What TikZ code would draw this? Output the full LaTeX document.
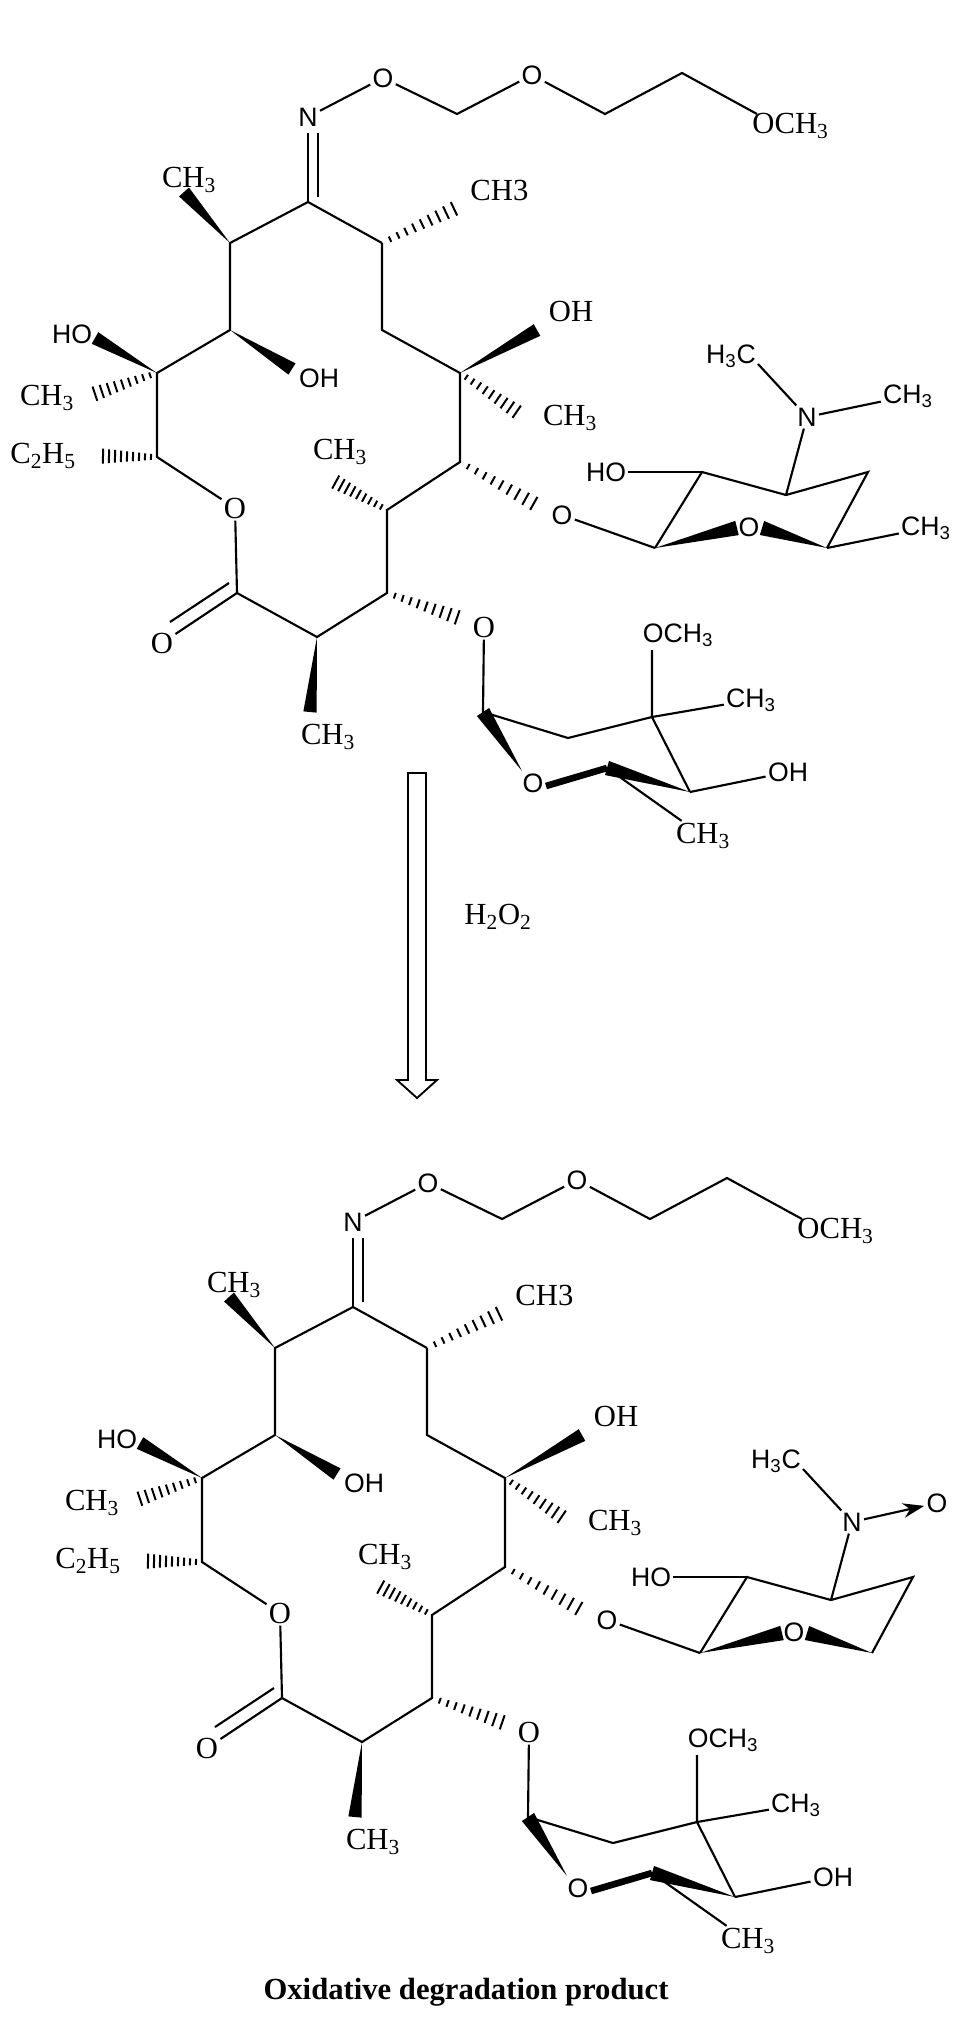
\documentclass[tikz,border=0pt]{standalone}
\usepackage{fontspec}
\setmainfont{Liberation Serif}
\setsansfont{Liberation Sans}
\usetikzlibrary{calc,arrows.meta}
\newcommand\wdg[3]{\fill ($(#1)$) -- ($(#2)!#3!90:(#1)$) -- ($(#2)!#3!-90:(#1)$) -- cycle;}
\newcommand\hsh[3]{\foreach \t in {0.1,0.2,...,0.95}{\draw[line width=1.5pt] ($(#1)!\t!(#2)!{(0.3+0.7*\t)*#3}!90:(#2)$) -- ($(#1)!\t!(#2)!{(0.3+0.7*\t)*#3}!-90:(#2)$);}}
\newcommand\mymol{%
% oxime side chain
\node[sl] (N) at (308,117) {N};
\node[sl] (O1) at (383,78) {O};
\coordinate (Ca) at (457,114);
\node[sl] (O2) at (532,75) {O};
\coordinate (Cb) at (605,114);
\coordinate (Cc) at (682,73);
\node[lb,anchor=west] (OMe) at (750,126) {OCH\textsubscript{3}};
\coordinate (Ce) at (757,114);
\draw (N) -- (O1) -- (Ca) -- (O2) -- (Cb) -- (Cc) -- (Ce);
% macrolide ring
\coordinate (C9) at (308,202);
\coordinate (Nb) at (308,133);
\coordinate (C9r) at (318,197);
\coordinate (Nbr) at (318,133);
\coordinate (C10) at (230,243);
\coordinate (C11) at (230,330);
\coordinate (C12) at (157,373);
\coordinate (C13) at (157,457);
\node[lb] (Or) at (235,508) {O};
\coordinate (C1) at (237,593);
\node[lb] (Ok) at (162,643) {O};
\coordinate (C1b) at (229,583);
\coordinate (Okb) at (170,622);
\coordinate (C2) at (317,637);
\coordinate (C3) at (387,593);
\coordinate (C4) at (387,510);
\coordinate (C5) at (460,462);
\coordinate (C6) at (460,373);
\coordinate (C7) at (382,330);
\coordinate (C8) at (382,243);
\draw (C9) -- (Nb);
\draw (C9r) -- (Nbr);
\draw (C8) -- (C9) -- (C10) -- (C11) -- (C12) -- (C13) -- (Or) -- (C1) -- (C2) -- (C3) -- (C4) -- (C5) -- (C6) -- (C7) -- (C8);
\draw (C1) -- (Ok);
\draw (C1b) -- (Okb);
% substituents
\coordinate (w1) at (184,192); \wdg{C10}{w1}{5pt}
\node[lb] (L1) at (189,180) {CH\textsubscript{3}};
\coordinate (w2) at (292,369); \wdg{C11}{w2}{5pt}
\node[sl] (L2) at (319,378) {OH};
\coordinate (w3) at (95,338); \wdg{C12}{w3}{5pt}
\node[sl] (L3) at (72,334) {HO};
\coordinate (h1) at (88,396); \hsh{C12}{h1}{6pt}
\node[lb] (L4) at (47,398) {CH\textsubscript{3}};
\coordinate (h2) at (97,456); \hsh{C13}{h2}{6pt}
\node[lb] (L5) at (43,456) {C\textsubscript{2}H\textsubscript{5}};
\coordinate (w4) at (310,712); \wdg{C2}{w4}{5pt}
\node[lb] (L6) at (328,737) {CH\textsubscript{3}};
\coordinate (h3) at (465,620); \hsh{C3}{h3}{6pt}
\node[lb] (O3) at (484,627) {O};
\coordinate (h4) at (330,479); \hsh{C4}{h4}{6pt}
\node[lb] (L7) at (340,452) {CH\textsubscript{3}};
\coordinate (h5) at (462,205); \hsh{C8}{h5}{6pt}
\node[lb,anchor=west] (L8) at (468,190) {CH3};
\coordinate (w5) at (537,330); \wdg{C6}{w5}{5pt}
\node[lb] (L9) at (571,311) {OH};
\coordinate (h6) at (523,416); \hsh{C6}{h6}{6pt}
\node[lb] (L10) at (570,418) {CH\textsubscript{3}};
\coordinate (h7) at (542,508); \hsh{C5}{h7}{6pt}
\node[sl] (O5) at (562,515) {O};
% desosamine
\coordinate (G1) at (655,548);
\node[sl] (GO) at (749,527) {O};
\coordinate (GOl) at (737,528);
\coordinate (GOr) at (762,528);
\coordinate (G5) at (827,548);
\coordinate (G4) at (868,472);
\coordinate (G3) at (786,495);
\coordinate (G2) at (702,472);
\draw (O5) -- (G1);
\wdg{G1}{GOl}{5.5pt}
\wdg{G5}{GOr}{5.5pt}
\draw (G5) -- (G4) -- (G3) -- (G2) -- (G1);
\node[sl] (NN) at (807,417) {N};
\draw (G3) -- (NN);
\node[sl] (H3C) at (731,356) {H\textsubscript{3}C};
\coordinate (Hb) at (758,364);
\draw (NN) -- (Hb);
\node[sl] (HOs) at (606,472) {HO};
\draw (G2) -- (HOs);
% cladinose
\coordinate (S1) at (483,712);
\node[sl] (SO) at (533,783) {O};
\coordinate (SOa) at (522,771);
\coordinate (SOb) at (546,786);
\coordinate (S2) at (568,738);
\coordinate (S3) at (652,717);
\coordinate (S3t) at (652,650);
\coordinate (S4) at (690,792);
\coordinate (S5) at (607,768);
\draw (O3) -- (S1) -- (S2) -- (S3) -- (S3t);
\node[sl] (SOM) at (678,635) {OCH\textsubscript{3}};
\node[sl] (SMe) at (751,700) {CH\textsubscript{3}};
\draw (S3) -- (SMe);
\draw (S3) -- (S4);
\node[sl] (SOH) at (788,772) {OH};
\draw (S4) -- (SOH);
\wdg{SOa}{S1}{5.5pt}
\draw[line width=5pt] (SOb) -- (S5);
\wdg{S4}{S5}{5.5pt}
\node[lb] (SMe2) at (703,836) {CH\textsubscript{3}};
\draw (S5) -- (SMe2);
}
\begin{document}
\begin{tikzpicture}[x=0.75pt,y=-0.75pt,line width=1.6pt,
  lb/.style={inner sep=1pt,font=\fontsize{23}{24}\selectfont},
  sl/.style={inner sep=1pt,font=\sffamily\fontsize{20}{22}\selectfont}]
\useasboundingbox (0,0) rectangle (961,2027);
\begin{scope}[name prefix=t-]
\mymol
\node[sl] (NMe) at (908,396) {CH\textsubscript{3}};
\draw (NN) -- (NMe);
\node[sl] (GMe) at (926,528) {CH\textsubscript{3}};
\draw (G5) -- (GMe);
\end{scope}
\begin{scope}[shift={(45,1105)},name prefix=b-]
\mymol
\node[sl] (NO) at (892,398) {O};
\draw[-{Stealth[length=16pt,width=11pt]}] (NN) -- (NO);
\end{scope}
% reaction arrow
\coordinate (A1) at (408,773);
\coordinate (A2) at (408,1080);
\coordinate (A3) at (397,1080);
\coordinate (A4) at (417,1098);
\coordinate (A5) at (437,1080);
\coordinate (A6) at (426,1080);
\coordinate (A7) at (426,773);
\draw[line width=1.4pt,line join=miter] (A1) -- (A2) -- (A3) -- (A4) -- (A5) -- (A6) -- (A7) -- cycle;
\node[lb] (H2O2) at (498,917) {H\textsubscript{2}O\textsubscript{2}};
\node[font=\bfseries\fontsize{23}{24}\selectfont] (cap) at (466,1992) {Oxidative degradation product};
\end{tikzpicture}
\end{document}
